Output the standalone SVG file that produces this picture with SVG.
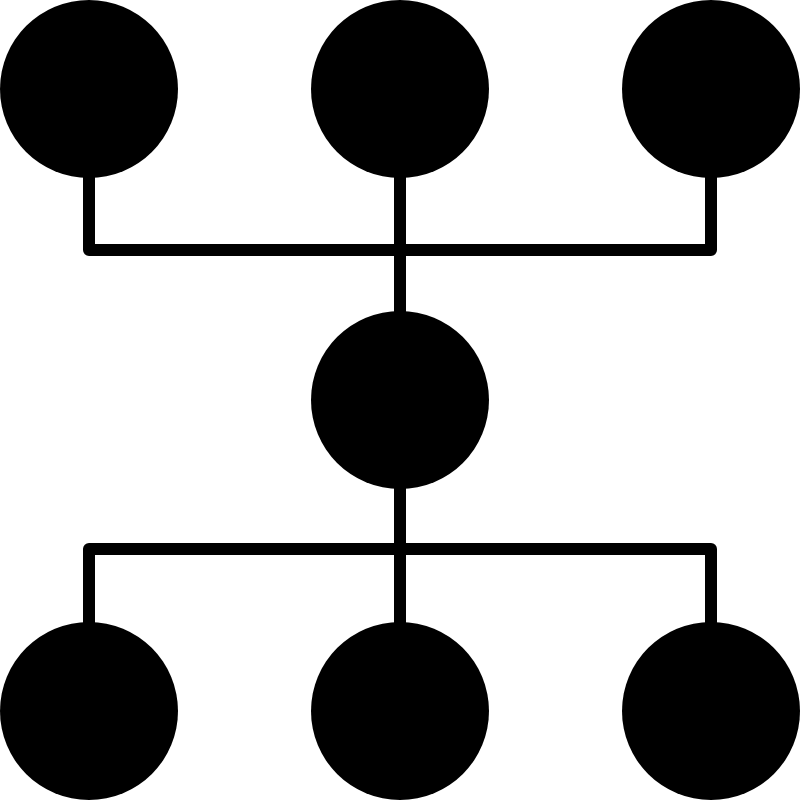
<svg xmlns="http://www.w3.org/2000/svg" width="800" height="800" viewBox="0 0 800 800">
  <style>
    .node { fill: #000; }
    .conn { fill: none; stroke: #000; stroke-width: 12; stroke-linejoin: round; stroke-linecap: butt; }
  </style>
  <rect width="800" height="800" fill="#fff"/>
  <g id="connectors">
    <polyline class="conn" points="89,170 89,250 711,250 711,170"/>
    <line class="conn" x1="400" y1="170" x2="400" y2="320"/>
    <line class="conn" x1="400" y1="480" x2="400" y2="630"/>
    <polyline class="conn" points="89,630 89,549 711,549 711,630"/>
  </g>
  <g id="node-top-left"><circle class="node" cx="89" cy="89" r="89"/></g>
  <g id="node-top-center"><circle class="node" cx="400" cy="89" r="89"/></g>
  <g id="node-top-right"><circle class="node" cx="711" cy="89" r="89"/></g>
  <g id="node-center"><circle class="node" cx="400" cy="400" r="89"/></g>
  <g id="node-bottom-left"><circle class="node" cx="89" cy="711" r="89"/></g>
  <g id="node-bottom-center"><circle class="node" cx="400" cy="711" r="89"/></g>
  <g id="node-bottom-right"><circle class="node" cx="711" cy="711" r="89"/></g>
</svg>
